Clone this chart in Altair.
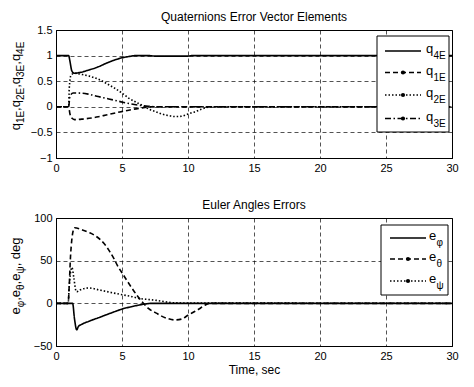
import altair as alt
import pandas as pd

FONT = "Liberation Sans"

# ---------------- top panel data (quaternion error elements) ----------------
t_q4 = [0, 0.96, 1.05, 1.2, 1.39, 1.8, 2.5, 3.2, 3.8, 4.4, 5.05, 5.6, 6.06, 7.0, 7.5, 10.0, 10.3, 30]
v_q4 = [1, 1, 0.9, 0.7, 0.655, 0.67, 0.72, 0.78, 0.85, 0.91, 0.96, 0.985, 1.0, 1.0, 0.99, 0.99, 1.0, 1.0]

t_q1 = [0, 0.96, 1.05, 1.2, 1.4, 2.0, 2.5, 3.2, 3.8, 4.4, 5.05, 5.7, 6.3, 7.3, 30]
v_q1 = [0, 0, -0.13, -0.22, -0.25, -0.24, -0.225, -0.195, -0.16, -0.125, -0.09, -0.055, -0.03, 0, 0]

t_q2 = [0, 0.96, 1.0, 1.14, 1.4, 2.0, 2.5, 3.2, 3.8, 4.4, 5.05, 5.5, 6.06, 6.6, 7.07, 7.6, 8.0, 8.5, 9.0, 9.5, 10.0, 10.5, 11.0, 11.5, 11.8, 30]
v_q2 = [0, 0, 0.35, 0.62, 0.655, 0.63, 0.6, 0.54, 0.46, 0.37, 0.26, 0.17, 0.09, 0.02, -0.05, -0.1, -0.14, -0.17, -0.19, -0.185, -0.14, -0.1, -0.05, -0.01, 0, 0]

t_q3 = [0, 0.96, 1.05, 1.3, 2.0, 2.5, 3.2, 3.8, 4.4, 5.05, 5.7, 6.3, 7.0, 7.6, 30]
v_q3 = [0, 0, 0.2, 0.27, 0.265, 0.245, 0.2, 0.165, 0.13, 0.09, 0.055, 0.03, 0.01, 0, 0]

# ---------------- bottom panel data (Euler angle errors, deg) ----------------
t_phi = [0, 1.26, 1.4, 1.57, 1.7, 1.9, 2.5, 3.2, 3.8, 4.4, 5.05, 5.7, 6.3, 7.3, 30]
v_phi = [0, 0, -18, -31, -27, -25, -21, -17, -13.5, -10, -6.5, -4, -2, 0, 0]

t_theta = [0, 0.92, 1.0, 1.1, 1.2, 1.3, 1.4, 2.0, 2.5, 3.0, 3.4, 3.8, 4.1, 4.4, 4.7, 5.05, 5.4, 5.7, 6.1, 6.57, 7.0,
           7.6, 8.0, 8.5, 9.0, 9.5, 10.0, 10.4, 10.8, 11.2, 11.6, 30]
v_theta = [0, 0, 20, 55, 75, 85, 88.5, 86, 83, 79, 74, 67, 60, 52, 43, 34.6, 26, 19, 10, 1, -6,
           -11.5, -15, -18, -19.5, -18.5, -14, -10.5, -7, -3, 0, 0]

t_psi = [0, 0.92, 1.0, 1.1, 1.21, 1.35, 1.5, 1.57, 1.8, 2.5, 3.2, 3.8, 4.4, 5.05, 5.7, 6.3, 7.0, 7.6, 8.2, 9.0, 30]
v_psi = [0, 0, 20, 36, 42, 30, 15, 13.4, 15.5, 18, 16, 14, 12, 10, 8, 5.8, 4.5, 3.5, 2, 0.5, 0]

x_ticks = [0, 5, 10, 15, 20, 25, 30]
top_y_ticks = [-1, -0.5, 0, 0.5, 1, 1.5]
bot_y_ticks = [-50, 0, 50, 100]

top_names = ["q4E", "q1E", "q2E", "q3E"]
top_subs = ["4E", "1E", "2E", "3E"]
bot_names = ["e_phi", "e_theta", "e_psi"]
bot_subs = ["φ", "θ", "ψ"]
dashes4 = [[1, 0], [5, 3], [1.5, 2], [6, 2.5, 1.5, 2.5]]
dashes3 = [[1, 0], [5, 3], [1.5, 2]]

top_title = "Quaternions Error Vector Elements"
bot_title = "Euler Angles Errors"
x_title = "Time, sec"

W = {'q': .556, 'e': .556, '1': .556, '2': .556, '3': .556, '4': .556, 'E': .667, ',': .278,
     ' ': .278, 'd': .556, 'g': .556, 'φ': .65, 'θ': .556, 'ψ': .72}


def tw(s, fs):
    return sum(W.get(c, .556) for c in s) * fs


def long_df(names, ts_list, vs_list):
    rows = []
    for n, ts, vs in zip(names, ts_list, vs_list):
        for t, v in zip(ts, vs):
            rows.append({"series": n, "t": t, "v": v})
    return pd.DataFrame(rows)


def ytitle_df(chunks, center, xbase, fs_main=13, fs_sub=10):
    L = sum(tw(s, fs_sub if sub else fs_main) for s, sub in chunks)
    start = center + L / 2
    rows, off = [], 0
    for s, sub in chunks:
        fs = fs_sub if sub else fs_main
        rows.append({"txt": s, "xp": xbase + (4 if sub else 0), "yp": start - off, "fs": fs})
        off += tw(s, fs)
    return pd.DataFrame(rows)


W_PLOT, H_PLOT = 396, 128


def panel(df, names, dashes, ydom, yticks, title, xtitle, legend_rows, box, ytitle):
    dash_scale = alt.Scale(domain=names, range=dashes)
    xaxis = alt.Axis(values=x_ticks, title=xtitle, grid=True, labelFlush=False, format="~r")
    yaxis = alt.Axis(values=yticks, title=None, grid=True, format="~r")
    lines = alt.Chart(df).mark_line(interpolate="monotone", color="black", strokeWidth=1.6).encode(
        x=alt.X("t:Q", scale=alt.Scale(domain=[0, 30], nice=False, zero=False), axis=xaxis),
        y=alt.Y("v:Q", scale=alt.Scale(domain=ydom, nice=False, zero=False), axis=yaxis),
        strokeDash=alt.StrokeDash("series:N", scale=dash_scale, legend=None),
        detail="series:N",
    )
    ldf = pd.DataFrame(legend_rows)
    px = alt.X("xp:Q", scale=None, axis=None)
    py = alt.Y("yp:Q", scale=None, axis=None)
    boxdf = pd.DataFrame([box])
    boxl = alt.Chart(boxdf).mark_rect(fill="white", stroke="black", strokeWidth=1).encode(
        x=alt.X("x1:Q", scale=None, axis=None), x2="x2:Q",
        y=alt.Y("y1:Q", scale=None, axis=None), y2="y2:Q")
    lrule = alt.Chart(ldf).mark_rule(color="black", strokeWidth=1.6).encode(
        x=alt.X("lx1:Q", scale=None, axis=None), x2="lx2:Q", y=py,
        strokeDash=alt.StrokeDash("series:N", scale=dash_scale, legend=None))
    lpt = alt.Chart(ldf).transform_filter("datum.marker").mark_point(
        filled=True, color="black", size=18, opacity=1).encode(
        x=alt.X("mx:Q", scale=None, axis=None), y=py)
    lmain = alt.Chart(ldf).mark_text(align="left", baseline="alphabetic", font=FONT, fontSize=13,
                                     color="black", dy=2).encode(
        x=alt.X("tx:Q", scale=None, axis=None), y=py, text="main:N")
    lsub = alt.Chart(ldf).mark_text(align="left", baseline="alphabetic", font=FONT, fontSize=10,
                                    color="black", dy=8).encode(
        x=alt.X("sx:Q", scale=None, axis=None), y=py, text="sub:N")
    yt = alt.Chart(ytitle).mark_text(angle=270, align="left", baseline="alphabetic", font=FONT,
                                     color="black").encode(
        x=px, y=py, text="txt:N", size=alt.Size("fs:Q", scale=None, legend=None))
    return alt.layer(lines, boxl, lrule, lpt, lmain, lsub, yt).properties(
        width=W_PLOT, height=H_PLOT,
        title=alt.Title(title, fontSize=12, fontWeight="normal", font=FONT, frame="group",
                        anchor="middle", offset=0, color="black"))


top_df = long_df(top_names, [t_q4, t_q1, t_q2, t_q3], [v_q4, v_q1, v_q2, v_q3])
bot_df = long_df(bot_names, [t_phi, t_theta, t_psi], [v_phi, v_theta, v_psi])

top_leg_y = [21, 42.5, 65, 88.5]
top_legend = [{"series": n, "main": "q", "sub": s, "yp": y, "lx1": 329, "lx2": 365, "mx": 347,
               "tx": 370, "sx": 377.5, "marker": i > 0}
              for i, (n, s, y) in enumerate(zip(top_names, top_subs, top_leg_y))]
bot_leg_y = [20, 41, 63]
bot_legend = [{"series": n, "main": "e", "sub": s, "yp": y, "lx1": 334, "lx2": 370, "mx": 352,
               "tx": 373, "sx": 380.5, "marker": i > 0}
              for i, (n, s, y) in enumerate(zip(bot_names, bot_subs, bot_leg_y))]

top_ychunks = [("q", False), ("1E", True), (",", False), ("q", False), ("2E", True), (",", False),
               ("q", False), ("3E", True), (",", False), ("q", False), ("4E", True)]
bot_ychunks = [("e", False), ("φ", True), (",", False), ("e", False), ("θ", True), (",", False),
               ("e", False), ("ψ", True), (", deg", False)]

top = panel(top_df, top_names, dashes4, [-1, 1.5], top_y_ticks, top_title, None, top_legend,
            {"x1": 321, "x2": 393, "y1": 6, "y2": 102},
            ytitle_df(top_ychunks, 56, -36))
bot = panel(bot_df, bot_names, dashes3, [-50, 100], bot_y_ticks, bot_title, x_title, bot_legend,
            {"x1": 325, "x2": 392, "y1": 7, "y2": 77},
            ytitle_df(bot_ychunks, 58, -36))

chart = alt.vconcat(top, bot, spacing=24).resolve_scale(strokeDash="independent").properties(
    padding={"left": 1, "top": 2, "right": 5, "bottom": 5}, background="white"
).configure_view(stroke="black", strokeWidth=1).configure_axis(
    labelFont=FONT, labelFontSize=11, labelColor="black", titleFont=FONT, titleFontSize=12,
    titleFontWeight="normal", titleColor="black", titlePadding=3,
    gridColor="black", gridDash=[4, 3], gridOpacity=0.85, gridWidth=0.8,
    domainColor="black", ticks=False, labelPadding=4
)

chart.save("out.html", embed_options={"renderer": "svg", "actions": False})
